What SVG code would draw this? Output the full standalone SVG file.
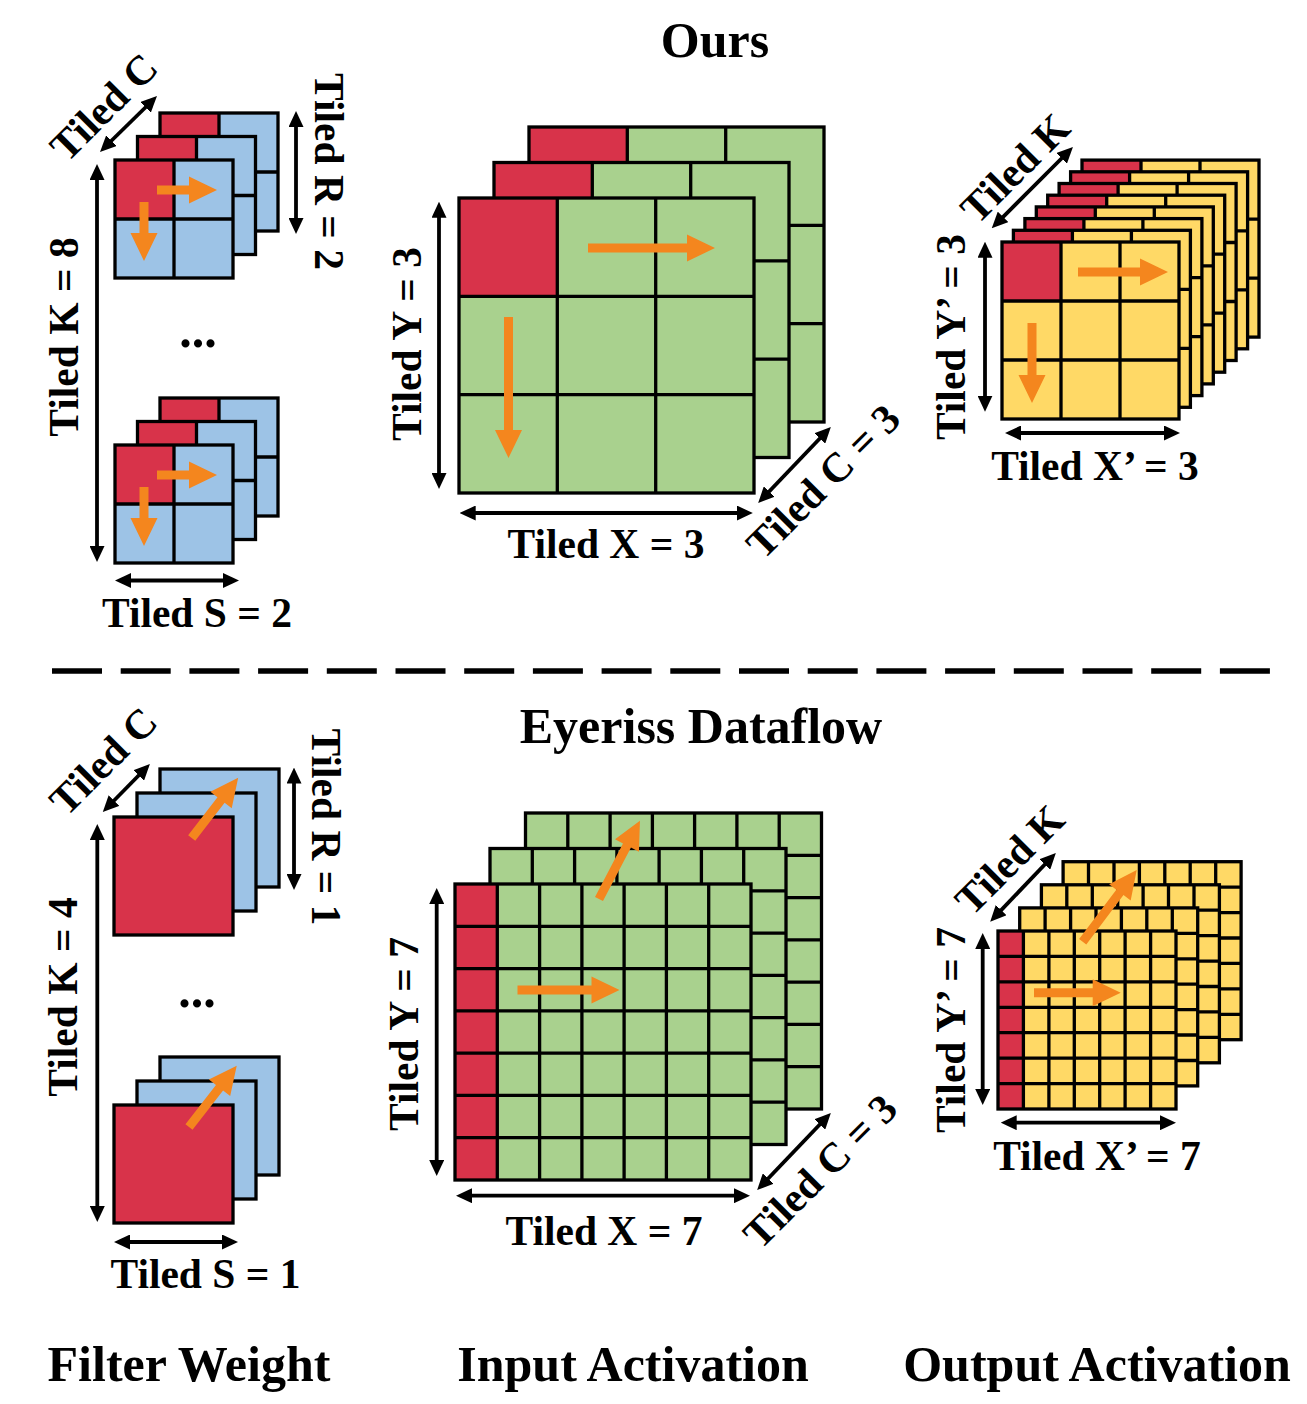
<svg xmlns="http://www.w3.org/2000/svg" xmlns:xlink="http://www.w3.org/1999/xlink" width="1307" height="1404" viewBox="0 0 1307 1404">
<style>
.t{font-family:"Liberation Serif","Times New Roman",serif;font-weight:bold;font-size:41.5px;fill:#000}
.h{font-size:50px}
.ln{fill:none;stroke:#000;stroke-width:3.3}
.ol{fill:none;stroke:#000;stroke-width:3.3}
.bl{fill:#9DC3E6}.rd{fill:#D8334A}.gr{fill:#A9D18E}.ye{fill:#FFD966}
.oa{fill:#F4861E}
.ar{fill:none;stroke:#000;stroke-width:3.8;marker-start:url(#ah);marker-end:url(#ah)}
</style>
<defs>
<marker id="ah" markerUnits="userSpaceOnUse" markerWidth="16" markerHeight="15" refX="9" refY="7.5" orient="auto-start-reverse" viewBox="0 0 16 15"><path d="M0,0L16,7.5L0,15Z" fill="#000"/></marker>
<g id="fw2"><rect width="118" height="118" class="bl"/><rect width="59" height="59" class="rd"/><path class="ln" d="M59,0V118M0,59H118"/><rect width="118" height="118" class="ol"/></g>
<g id="fw1b"><rect width="119" height="118" class="bl"/><rect width="119" height="118" class="ol"/></g>
<g id="fw1r"><rect width="119" height="118" class="rd"/><rect width="119" height="118" class="ol"/></g>
<g id="ia3"><rect width="295" height="295" class="gr"/><rect width="98.3" height="98.3" class="rd"/><path class="ln" d="M98.3,0V295M196.7,0V295M0,98.3H295M0,196.7H295"/><rect width="295" height="295" class="ol"/></g>
<g id="oa3"><rect width="177" height="177" class="ye"/><rect width="59" height="59" class="rd"/><path class="ln" d="M59,0V177M118,0V177M0,59H177M0,118H177"/><rect width="177" height="177" class="ol"/></g>
<path id="g7a" class="ln" d="M42.3,0V296M84.6,0V296M126.9,0V296M169.1,0V296M211.4,0V296M253.7,0V296M0,42.3H296M0,84.6H296M0,126.9H296M0,169.1H296M0,211.4H296M0,253.7H296"/>
<g id="ia7g"><rect width="296" height="296" class="gr"/><use xlink:href="#g7a"/><rect width="296" height="296" class="ol"/></g>
<g id="ia7r"><rect width="296" height="296" class="gr"/><rect width="42.3" height="296" class="rd"/><use xlink:href="#g7a"/><rect width="296" height="296" class="ol"/></g>
<path id="g7b" class="ln" d="M25.4,0V178M50.9,0V178M76.3,0V178M101.7,0V178M127.1,0V178M152.6,0V178M0,25.4H178M0,50.9H178M0,76.3H178M0,101.7H178M0,127.1H178M0,152.6H178"/>
<g id="oa7y"><rect width="178" height="178" class="ye"/><use xlink:href="#g7b"/><rect width="178" height="178" class="ol"/></g>
<g id="oa7r"><rect width="178" height="178" class="ye"/><rect width="25.4" height="178" class="rd"/><use xlink:href="#g7b"/><rect width="178" height="178" class="ol"/></g>
</defs>
<rect width="1307" height="1404" fill="#fff"/>

<!-- ===== Ours ===== -->
<g id="filter-ours-1">
<use xlink:href="#fw2" x="160" y="113"/>
<use xlink:href="#fw2" x="137.5" y="136.5"/>
<use xlink:href="#fw2" x="115" y="160"/>
<path class="oa" transform="translate(157,190)" d="M0,-4.5H32V-13.5L60,0L32,13.5V4.5H0Z"/>
<path class="oa" transform="translate(144,202) rotate(90)" d="M0,-4.5H31V-13.5L59,0L31,13.5V4.5H0Z"/>
</g>
<g id="filter-ours-2">
<use xlink:href="#fw2" x="160" y="398"/>
<use xlink:href="#fw2" x="137.5" y="421.5"/>
<use xlink:href="#fw2" x="115" y="445"/>
<path class="oa" transform="translate(157,475)" d="M0,-4.5H32V-13.5L60,0L32,13.5V4.5H0Z"/>
<path class="oa" transform="translate(144,487) rotate(90)" d="M0,-4.5H31V-13.5L59,0L31,13.5V4.5H0Z"/>
</g>
<g id="input-ours">
<use xlink:href="#ia3" x="529" y="127"/>
<use xlink:href="#ia3" x="494" y="162.5"/>
<use xlink:href="#ia3" x="459" y="198"/>
<path class="oa" transform="translate(588,248)" d="M0,-4.5H99V-13.5L127,0L99,13.5V4.5H0Z"/>
<path class="oa" transform="translate(508.5,317) rotate(90)" d="M0,-4.5H113V-13.5L141,0L113,13.5V4.5H0Z"/>
</g>
<g id="output-ours">
<use xlink:href="#oa3" x="1082" y="160.1"/>
<use xlink:href="#oa3" x="1070.6" y="171.8"/>
<use xlink:href="#oa3" x="1059.1" y="183.5"/>
<use xlink:href="#oa3" x="1047.7" y="195.2"/>
<use xlink:href="#oa3" x="1036.3" y="206.9"/>
<use xlink:href="#oa3" x="1024.9" y="218.6"/>
<use xlink:href="#oa3" x="1013.4" y="230.3"/>
<use xlink:href="#oa3" x="1002" y="242"/>
<path class="oa" transform="translate(1078,272)" d="M0,-4.5H62V-13.5L90,0L62,13.5V4.5H0Z"/>
<path class="oa" transform="translate(1032,323) rotate(90)" d="M0,-4.5H52V-13.5L80,0L52,13.5V4.5H0Z"/>
</g>

<!-- ===== Eyeriss ===== -->
<g id="filter-eyeriss-1">
<use xlink:href="#fw1b" x="160" y="769"/>
<use xlink:href="#fw1b" x="137" y="793"/>
<use xlink:href="#fw1r" x="114" y="817"/>
<path class="oa" transform="translate(191.7,838) rotate(-52.3)" d="M0,-4.5H48V-13.5L76,0L48,13.5V4.5H0Z"/>
</g>
<g id="filter-eyeriss-2">
<use xlink:href="#fw1b" x="160" y="1057"/>
<use xlink:href="#fw1b" x="137" y="1081"/>
<use xlink:href="#fw1r" x="114" y="1105"/>
<path class="oa" transform="translate(189,1127) rotate(-52.1)" d="M0,-4.5H49.7V-13.5L77.7,0L49.7,13.5V4.5H0Z"/>
</g>
<g id="input-eyeriss">
<use xlink:href="#ia7g" x="525.5" y="813"/>
<use xlink:href="#ia7g" x="490" y="848.5"/>
<use xlink:href="#ia7r" x="455" y="884"/>
<path class="oa" transform="translate(517.5,990)" d="M0,-4.5H74V-13.5L102,0L74,13.5V4.5H0Z"/>
<path class="oa" transform="translate(599,899) rotate(-62.4)" d="M0,-4.5H60.4V-13.5L88.4,0L60.4,13.5V4.5H0Z"/>
</g>
<g id="output-eyeriss">
<use xlink:href="#oa7y" x="1063.1" y="861.7"/>
<use xlink:href="#oa7y" x="1041.4" y="884.8"/>
<use xlink:href="#oa7y" x="1019.7" y="907.9"/>
<use xlink:href="#oa7r" x="998" y="931"/>
<path class="oa" transform="translate(1034,992.7)" d="M0,-4.5H58.7V-13.5L86.7,0L58.7,13.5V4.5H0Z"/>
<path class="oa" transform="translate(1082.7,941.7) rotate(-53)" d="M0,-4.5H61.8V-13.5L89.8,0L61.8,13.5V4.5H0Z"/>
</g>

<!-- ===== Connectors (dimension arrows) ===== -->
<g id="connectors">
<line class="ar" x1="97" y1="171" x2="97" y2="555"/>
<line class="ar" x1="296" y1="118" x2="296" y2="227"/>
<line class="ar" x1="105" y1="147" x2="152" y2="101"/>
<line class="ar" x1="122" y1="580.5" x2="232" y2="580.5"/>
<line class="ar" x1="439" y1="208.7" x2="439" y2="482"/>
<line class="ar" x1="466.7" y1="513" x2="745.8" y2="513"/>
<line class="ar" x1="763" y1="498" x2="826" y2="432"/>
<line class="ar" x1="985" y1="248.7" x2="985" y2="404.7"/>
<line class="ar" x1="1012" y1="433" x2="1173" y2="433"/>
<line class="ar" x1="996.7" y1="223.3" x2="1068" y2="152"/>
<line class="ar" x1="97.3" y1="831" x2="97.3" y2="1215"/>
<line class="ar" x1="294" y1="774.6" x2="294" y2="883"/>
<line class="ar" x1="107.7" y1="807" x2="145" y2="769"/>
<line class="ar" x1="121" y1="1242" x2="231" y2="1242"/>
<line class="ar" x1="436.7" y1="895" x2="436.7" y2="1169"/>
<line class="ar" x1="463" y1="1195.7" x2="743" y2="1195.7"/>
<line class="ar" x1="762" y1="1185" x2="826" y2="1118"/>
<line class="ar" x1="982.7" y1="940" x2="982.7" y2="1098"/>
<line class="ar" x1="1007.7" y1="1122.7" x2="1169" y2="1122.7"/>
<line class="ar" x1="995" y1="916.6" x2="1051" y2="858"/>
</g>

<line id="divider" x1="52" y1="671" x2="1270" y2="671" stroke="#000" stroke-width="5.5" stroke-dasharray="50 18.7"/>

<g id="labels">
<text class="t h" x="715" y="57" text-anchor="middle">Ours</text>
<text class="t h" x="701" y="743" text-anchor="middle">Eyeriss Dataflow</text>
<text class="t h" x="189" y="1381" text-anchor="middle">Filter Weight</text>
<text class="t h" x="633" y="1381" text-anchor="middle">Input Activation</text>
<text class="t h" x="1097" y="1381" text-anchor="middle">Output Activation</text>

<text class="t" transform="translate(113.5,117) rotate(-45)" text-anchor="middle">Tiled C</text>
<text class="t" transform="translate(315,171.5) rotate(90)" text-anchor="middle">Tiled R = 2</text>
<text class="t" transform="translate(78,337) rotate(-90)" text-anchor="middle">Tiled K = 8</text>
<text class="t h" x="198" y="347" text-anchor="middle">...</text>
<text class="t" x="197" y="627" text-anchor="middle">Tiled S = 2</text>
<text class="t" transform="translate(421,344) rotate(-90)" text-anchor="middle">Tiled Y = 3</text>
<text class="t" x="606" y="558" text-anchor="middle">Tiled X = 3</text>
<text class="t" transform="translate(833,491) rotate(-45)" text-anchor="middle">Tiled C = 3</text>
<text class="t" transform="translate(1025,178) rotate(-45)" text-anchor="middle">Tiled K</text>
<text class="t" transform="translate(965,337) rotate(-90)" text-anchor="middle">Tiled Y’ = 3</text>
<text class="t" x="1095" y="480" text-anchor="middle">Tiled X’ = 3</text>

<text class="t" transform="translate(113,771) rotate(-45)" text-anchor="middle">Tiled C</text>
<text class="t" transform="translate(312,827) rotate(90)" text-anchor="middle">Tiled R = 1</text>
<text class="t" transform="translate(77,997) rotate(-90)" text-anchor="middle">Tiled K = 4</text>
<text class="t h" x="197" y="1007" text-anchor="middle">...</text>
<text class="t" x="205.5" y="1288" text-anchor="middle">Tiled S = 1</text>
<text class="t" transform="translate(418,1034) rotate(-90)" text-anchor="middle">Tiled Y = 7</text>
<text class="t" x="604" y="1245" text-anchor="middle">Tiled X = 7</text>
<text class="t" transform="translate(830,1181) rotate(-45)" text-anchor="middle">Tiled C = 3</text>
<text class="t" transform="translate(1019.5,869.5) rotate(-45)" text-anchor="middle">Tiled K</text>
<text class="t" transform="translate(965,1030) rotate(-90)" text-anchor="middle">Tiled Y’ = 7</text>
<text class="t" x="1097" y="1170" text-anchor="middle">Tiled X’ = 7</text>
</g>
</svg>
